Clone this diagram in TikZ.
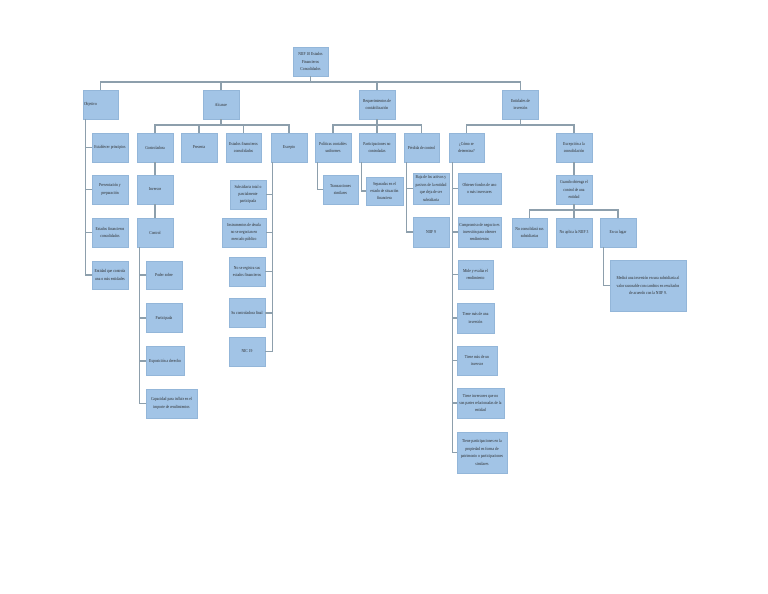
\documentclass[tikz,border=0pt]{standalone}
\usepackage{fontspec}
\setmainfont[FakeStretch=0.82]{Liberation Serif}
\usetikzlibrary{shadows}
\definecolor{boxfill}{HTML}{A2C4E6}
\definecolor{boxline}{HTML}{93B6D9}
\definecolor{linecol}{HTML}{8D9FAC}
\definecolor{textcol}{HTML}{2A2A2A}
\newcommand\fs{\fontsize{4.5}{7.4}\selectfont}
\newcommand\mybox[6]{\node[box,minimum width=#4pt,minimum height=#5pt] (#1) at (#2,#3) {#6};}
\begin{document}
\begin{tikzpicture}[x=1pt,y=-1pt,
  box/.style={draw=boxline, line width=0.4pt, fill=boxfill, align=center, inner sep=0.8pt, font=\fs, text=textcol,
     drop shadow={opacity=0.18, shadow xshift=0.8pt, shadow yshift=-0.8pt}},
  conn/.style={draw=linecol, line width=1.1pt}]
\useasboundingbox[fill=white] (0,0) rectangle (768,594);
% root and level 1
\mybox{root}{310.5}{61.5}{35}{29}{NIIF 10 Estados\\Financieros\\Consolidados}
\node[box,minimum width=35pt,minimum height=29pt,text width=33pt,align=left] (obj) at (100.5,104.5) {Objetivo};
\mybox{alc}{221}{104.5}{36}{29}{Alcance}
\mybox{req}{377}{104.5}{36}{29}{Requerimientos de\\contabilización}
\mybox{ent}{520.5}{104.5}{36}{29}{Entidades de\\inversión}
% Objetivo
\mybox{o1}{110}{147.5}{36}{29}{Establecer principios}
\mybox{o2}{110}{189.5}{36}{29}{Presentación y\\preparación}
\mybox{o3}{110}{232.5}{36}{29}{Estados financieros\\consolidados}
\mybox{o4}{110}{275}{36}{28}{Entidad que controla\\una o más entidades}
% Alcance
\mybox{ctrl}{155}{147.5}{36}{29}{Controladora}
\mybox{pres}{199}{147.5}{36}{29}{Presenta}
\mybox{efc}{243.5}{147.5}{35}{29}{Estados financieros\\consolidados}
\mybox{exc}{289}{147.5}{36}{29}{Excepto}
\mybox{inv}{155}{189.5}{36}{29}{Inversor}
\mybox{con}{155}{232.5}{36}{29}{Control}
\mybox{c1}{164}{275}{36}{28}{Poder sobre}
\mybox{c2}{164}{318}{36}{29}{Participada}
\mybox{c3}{165}{361}{38}{29}{Exposición a derecho}
\mybox{c4}{171.5}{403.5}{51}{29}{Capacidad para influir en el\\importe de rendimientos}
\mybox{e1}{248}{194.5}{36}{29}{Subsidiaria total o\\parcialmente\\participada}
\mybox{e2}{244}{232.5}{44}{29}{Instrumentos de deuda\\no se negocian en\\mercado público}
\mybox{e3}{247}{271.5}{36}{29}{No se registra sus\\estados financieros}
\mybox{e4}{247}{313}{36}{29}{Su controladora final}
\mybox{e5}{247}{351.5}{36}{29}{NIC 19}
% Requerimientos
\mybox{pol}{333}{147.5}{36}{29}{Políticas contables\\uniformes}
\mybox{par}{377}{147.5}{36}{29}{Participaciones no\\controladas}
\mybox{per}{421.5}{147.5}{35}{29}{Pérdida de control}
\mybox{p1}{340.5}{189.5}{35}{29}{Transacciones\\similares}
\mybox{p2}{384.5}{191}{37}{28}{Separadas en el\\estado de situación\\financiera}
\mybox{p3}{431}{188.5}{36}{31}{Baja de los activos y\\pasivos de la entidad\\que deja de ser\\subsidiaria}
\mybox{p4}{431}{232}{36}{30}{NIIF 9}
% Entidades de inversion
\mybox{com}{466.5}{147.5}{35}{29}{¿Cómo se\\determina?}
\mybox{exn}{574}{147.5}{36}{29}{Excepción a la\\consolidación}
\mybox{d1}{479.5}{188.5}{43}{31}{Obtener fondos de uno\\o más inversores}
\mybox{d2}{479.5}{232}{43}{30}{Compromiso de negocio es\\inversión para obtener\\rendimientos}
\mybox{d3}{475.5}{274.5}{35}{29}{Mide y evalúa el\\rendimiento}
\mybox{d4}{475.5}{318}{37}{30}{Tiene más de una\\inversión}
\mybox{d5}{477}{360.5}{40}{29}{Tiene más de un\\inversor}
\mybox{d6}{480.5}{403}{47}{30}{Tiene inversores que no\\son partes relacionadas de la\\entidad}
\mybox{d7}{482}{452.5}{50}{41}{Tiene participaciones en la\\propiedad en forma de\\patrimonio o participaciones\\similares}
\mybox{cua}{574}{189.5}{36}{29}{Cuando obtenga el\\control de una\\entidad}
\mybox{n1}{529.5}{232.5}{35}{29}{No consolidará sus\\subsidiarias}
\mybox{n2}{574}{232.5}{36}{29}{No aplica la NIIF 3}
\mybox{n3}{618}{232.5}{36}{29}{En su lugar}
\mybox{n4}{648}{285.5}{76}{51}{Medirá una inversión en una subsidiaria al\\valor razonable con cambios en resultados\\de acuerdo con la NIIF 9.}
% bus levels
\coordinate (y1) at (0,82);
\coordinate (y2) at (0,125);
\coordinate (y3) at (0,210);
% connectors level 1
\foreach \c in {obj,alc,req,ent}
  \draw[conn] (root.south) -- (root.south|-y1) -| (\c.north);
\foreach \c in {ctrl,pres,efc,exc}
  \draw[conn] (alc.south) -- (alc.south|-y2) -| (\c.north);
\foreach \c in {pol,par,per}
  \draw[conn] (req.south) -- (req.south|-y2) -| (\c.north);
\foreach \c in {com,exn}
  \draw[conn] (ent.south) -- (ent.south|-y2) -| (\c.north);
\foreach \c in {n1,n2,n3}
  \draw[conn] (cua.south) -- (cua.south|-y3) -| (\c.north);
% straight chains
\draw[conn] (ctrl.south) -- (inv.north);
\draw[conn] (inv.south) -- (con.north);
\draw[conn] (exn.south) -- (cua.north);
% side lists
\foreach \c in {o1,o2,o3,o4}
  \draw[conn] ([xshift=3pt]obj.south west) |- (\c.west);
\foreach \c in {c1,c2,c3,c4}
  \draw[conn] ([xshift=3pt]con.south west) |- (\c.west);
\foreach \c in {e1,e2,e3,e4,e5}
  \draw[conn] ([xshift=2pt]exc.south west) |- (\c.east);
\draw[conn] ([xshift=3pt]pol.south west) |- (p1.west);
\draw[conn] ([xshift=3pt]par.south west) |- (p2.west);
\foreach \c in {p3,p4}
  \draw[conn] ([xshift=3pt]per.south west) |- (\c.west);
\foreach \c in {d1,d2,d3,d4,d5,d6,d7}
  \draw[conn] ([xshift=3.5pt]com.south west) |- (\c.west);
\draw[conn] ([xshift=4pt]n3.south west) |- (n4.west);
\end{tikzpicture}
\end{document}
